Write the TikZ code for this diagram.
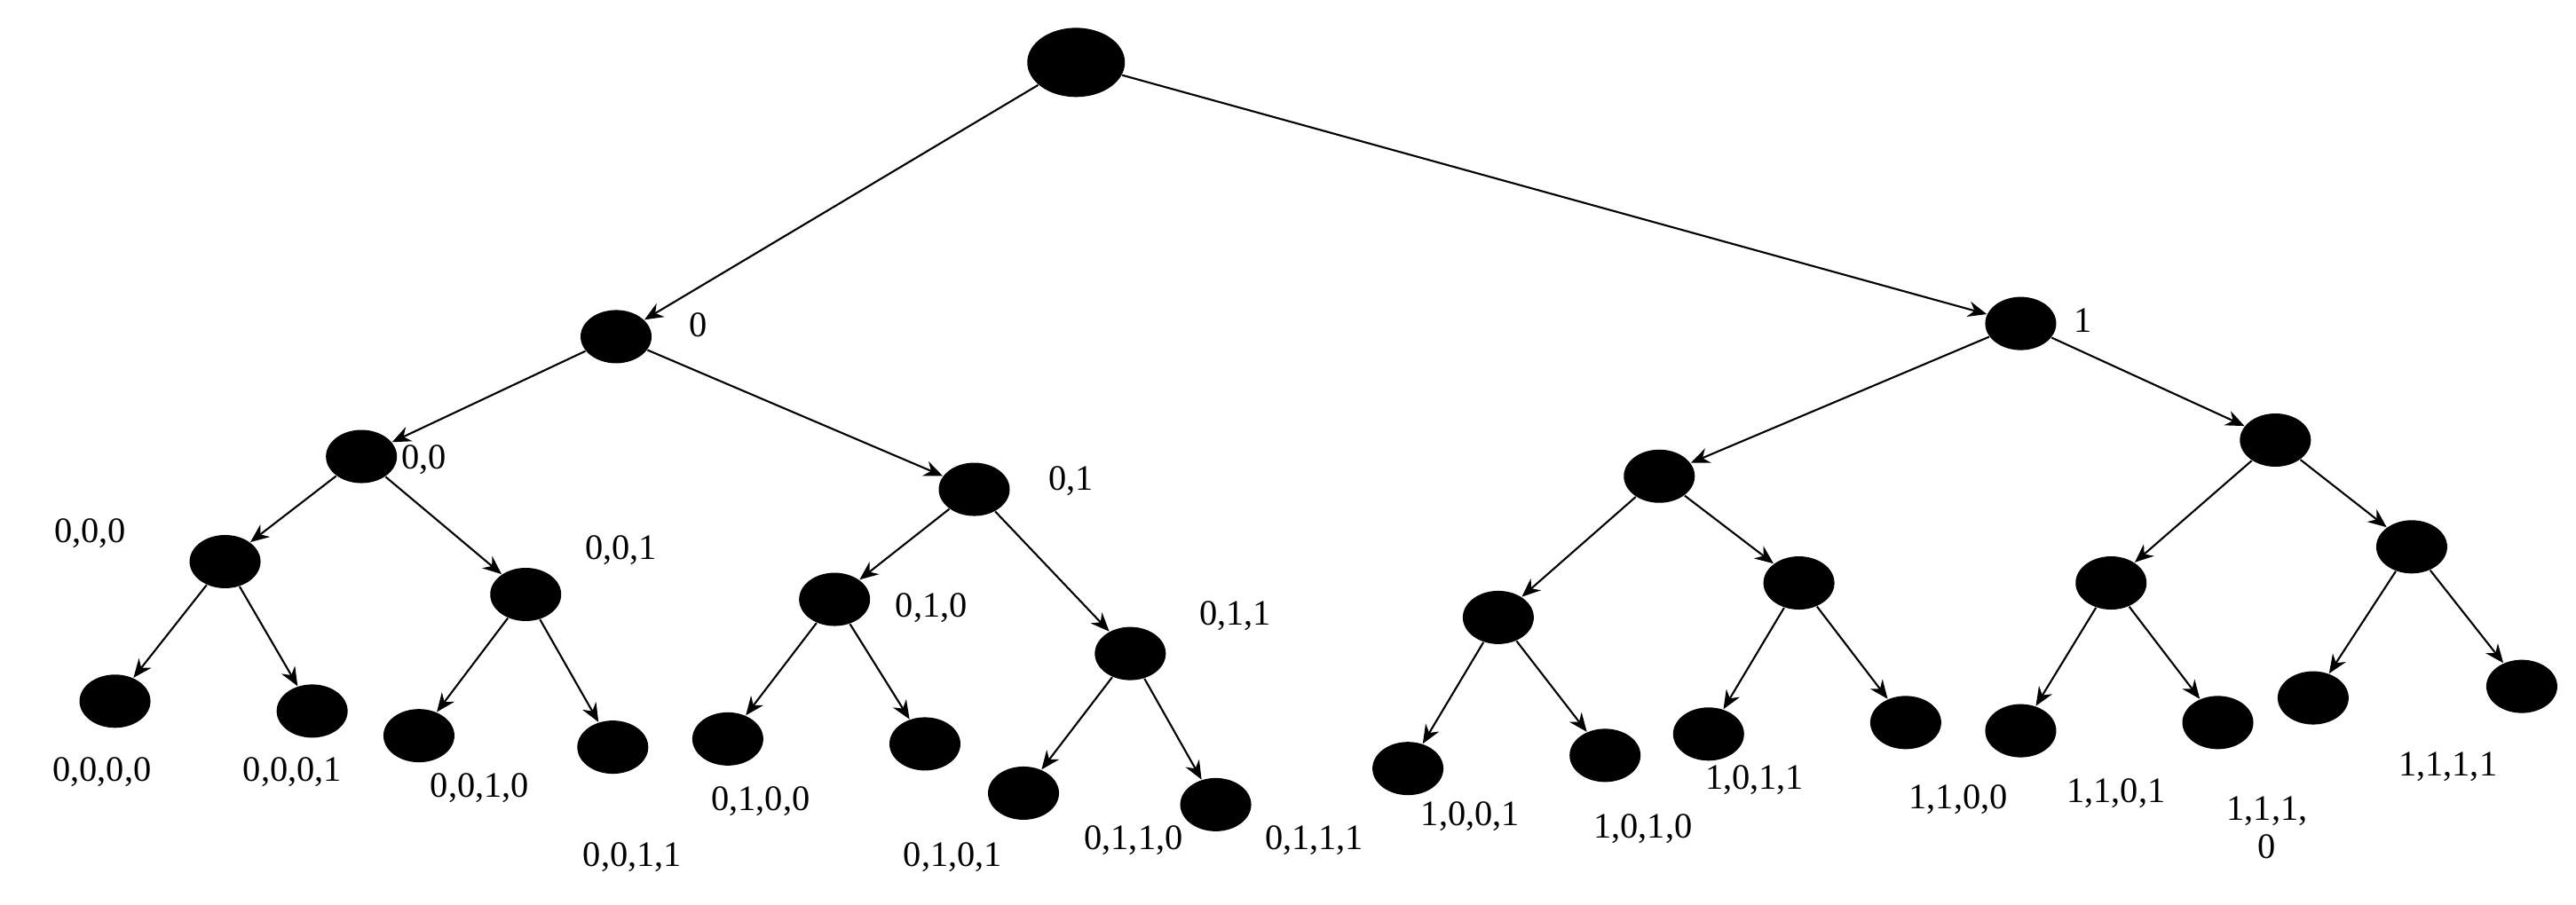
\documentclass[tikz,border=0pt]{standalone}
\usepackage{fontspec}
\setmainfont{Liberation Serif}
\usetikzlibrary{shapes.geometric,arrows.meta}
\begin{document}
\begin{tikzpicture}[x=0.01851cm,y=-0.01851cm,
  nd/.style={ellipse,fill=black,minimum width=0.8cm,minimum height=0.6cm,inner sep=0},
  big/.style={nd,minimum width=1.1cm,minimum height=0.78cm},
  ed/.style={-{Stealth[length=6pt,width=5pt]},line width=0.6pt},
  lb/.style={font=\fontsize{11.5}{12}\selectfont,inner sep=0,align=center}]
\useasboundingbox (0,0) rectangle (1568,551);
\node[big] (r) at (655,38) {};
\node[nd] (n0) at (375,205) {};
\node[nd] (n1) at (1230,197) {};
\node[nd] (n00) at (220,278) {};
\node[nd] (n01) at (593,298) {};
\node[nd] (n10) at (1010,290) {};
\node[nd] (n11) at (1385,268) {};
\node[nd] (n000) at (137,342) {};
\node[nd] (n001) at (320,362) {};
\node[nd] (n010) at (508,365) {};
\node[nd] (n011) at (688,398) {};
\node[nd] (n100) at (912,376) {};
\node[nd] (n101) at (1095,355) {};
\node[nd] (n110) at (1285,355) {};
\node[nd] (n111) at (1468,333) {};
\node[nd] (l0000) at (70,427) {};
\node[nd] (l0001) at (190,433) {};
\node[nd] (l0010) at (255,448) {};
\node[nd] (l0011) at (373,455) {};
\node[nd] (l0100) at (443,450) {};
\node[nd] (l0101) at (563,453) {};
\node[nd] (l0110) at (623,483) {};
\node[nd] (l0111) at (740,490) {};
\node[nd] (l1000) at (857,468) {};
\node[nd] (l1001) at (977,460) {};
\node[nd] (l1010) at (1040,447) {};
\node[nd] (l1011) at (1160,440) {};
\node[nd] (l1100) at (1230,445) {};
\node[nd] (l1101) at (1350,440) {};
\node[nd] (l1110) at (1408,425) {};
\node[nd] (l1111) at (1535,418) {};
\foreach \a/\b in {r/n0,r/n1,n0/n00,n0/n01,n1/n10,n1/n11,
  n00/n000,n00/n001,n01/n010,n01/n011,n10/n100,n10/n101,n11/n110,n11/n111,
  n000/l0000,n000/l0001,n001/l0010,n001/l0011,n010/l0100,n010/l0101,n011/l0110,n011/l0111,
  n100/l1000,n100/l1001,n101/l1010,n101/l1011,n110/l1100,n110/l1101,n111/l1110,n111/l1111}
  \draw[ed] (\a) -- (\b);
\node[lb] (t0) at (425,198) {0};
\node[lb] (t1) at (1268,195) {1};
\node[lb] (t00) at (258,280) {0,0};
\node[lb] (t01) at (652,293) {0,1};
\node[lb] (t000) at (55,325) {0,0,0};
\node[lb] (t001) at (378,335) {0,0,1};
\node[lb] (t010) at (567,370) {0,1,0};
\node[lb] (t011) at (752,375) {0,1,1};
\node[lb] (s0000) at (62,470) {0,0,0,0};
\node[lb] (s0001) at (178,470) {0,0,0,1};
\node[lb] (s0010) at (292,480) {0,0,1,0};
\node[lb] (s0011) at (385,522) {0,0,1,1};
\node[lb] (s0100) at (463,488) {0,1,0,0};
\node[lb] (s0101) at (580,522) {0,1,0,1};
\node[lb] (s0110) at (690,512) {0,1,1,0};
\node[lb] (s0111) at (800,512) {0,1,1,1};
\node[lb] (s1001) at (895,497) {1,0,0,1};
\node[lb] (s1010) at (1000,505) {1,0,1,0};
\node[lb] (s1011) at (1068,475) {1,0,1,1};
\node[lb] (s1100) at (1192,487) {1,1,0,0};
\node[lb] (s1101) at (1288,483) {1,1,0,1};
\node[lb] (s1110) at (1380,504) {1,1,1,\\0};
\node[lb] (s1111) at (1490,467) {1,1,1,1};
\end{tikzpicture}
\end{document}
